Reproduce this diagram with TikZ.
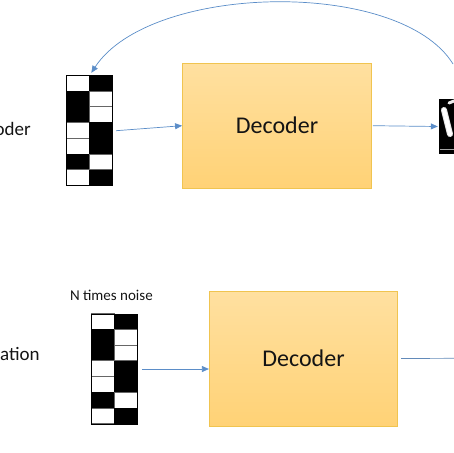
\documentclass[tikz,border=0pt]{standalone}
\usepackage{fontspec}
\setmainfont{Carlito}
\usetikzlibrary{arrows.meta}
\definecolor{arrowblue}{RGB}{91,141,200}
\definecolor{boxtop}{RGB}{255,224,160}
\definecolor{boxbot}{RGB}{255,210,118}
\definecolor{boxedge}{RGB}{240,196,80}
\definecolor{textdark}{RGB}{20,20,20}
\begin{document}
\begin{tikzpicture}[x=1pt,y=-1pt,
  decbox/.style={draw=boxedge, line width=0.8pt, top color=boxtop, bottom color=boxbot,
    inner sep=0pt, text=textdark, font=\fontsize{24}{28}\selectfont},
  gridbox/.style={draw=black, line width=0.8pt, minimum width=46pt, minimum height=110pt, inner sep=0pt},
  conn/.style={draw=arrowblue, line width=0.7pt, -{Triangle[length=7pt,width=6pt]}},
  plainconn/.style={draw=arrowblue!80!gray, line width=0.7pt},
  lab/.style={inner sep=0pt, text=textdark, font=\fontsize{19}{22}\selectfont},
  whitecell/.style={fill=white, draw=black!60, line width=0.5pt},
  blackcell/.style={fill=black}
]
\useasboundingbox (0,0) rectangle (453,453);

% ---------- top row ----------
\node[lab, anchor=base east] (lab1) at (31,135.5) {oder};
\node[gridbox] (g1) at (89.7,130.7) {};
\node[decbox, minimum width=189pt, minimum height=125pt] (d1) at (277,125.7) {Decoder};
\node[fill=black, inner sep=0pt, minimum width=16pt, minimum height=55pt] (img) at (447,126.5) {};

% ---------- bottom row ----------
\node[lab, anchor=base west] (lab2) at (0,360) {ation};
\node[inner sep=0pt, text=textdark, font=\fontsize{15}{18}\selectfont, anchor=base] (noise) at (111.4,300) {N times noise};
\node[gridbox] (g2) at (114.5,369) {};
\node[decbox, minimum width=188.4pt, minimum height=135pt] (d2) at (303.5,358.5) {Decoder};
\coordinate (outR) at (456,358.3);

% ---------- grid cells ----------
\foreach \g in {g1,g2}{
  \begin{scope}[shift={(\g.north west)}]
    \foreach \r/\lc/\rc in {0/whitecell/blackcell,1/blackcell/whitecell,2/blackcell/whitecell,
                            3/whitecell/blackcell,4/whitecell/blackcell,5/blackcell/whitecell,
                            6/whitecell/blackcell}{
      \path[\lc] (0,{\r*15.714}) rectangle ++(23,15.714);
      \path[\rc] (23,{\r*15.714}) rectangle ++(23,15.714);
    }
  \end{scope}
  \node[gridbox] at (\g) {};
}

% ---------- output image content ----------
\draw[white!80!gray, line width=6pt, line cap=round] (444,110) -- (450,134);
\draw[white, line width=4pt, line cap=round] (444,110) -- (450,134);
\draw[white!85!gray, line width=3pt, line cap=round] (449,103) -- (454,101);
\draw[gray!70, line width=0.8pt] (440,149.5) -- (454,149.5);

% ---------- connectors ----------
\draw[conn] ([xshift=3pt]g1.east) -- (d1.west);
\draw[conn] ([xshift=1pt]d1.east) -- ([xshift=-1pt]img.west);
\coordinate (cstart) at (453,64);
\draw[conn, shorten >=3pt] (cstart) .. controls (400,-22) and (150,-17) .. (g1.north);
\draw[conn] ([xshift=4pt]g2.east) -- (g2.east -| d2.west);
\draw[plainconn] ([xshift=3pt]d2.east) -- (outR);
\end{tikzpicture}
\end{document}
